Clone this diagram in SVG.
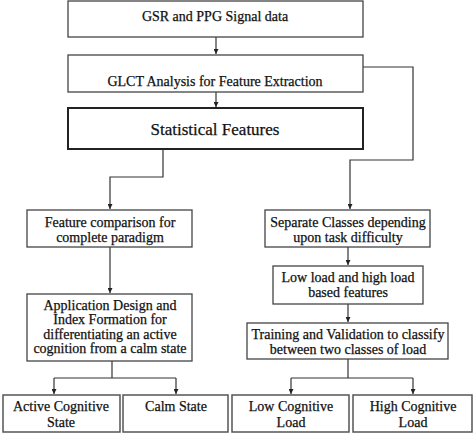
<svg xmlns="http://www.w3.org/2000/svg" width="474" height="434" viewBox="0 0 474 434">
<defs>
<marker id="ah" viewBox="0 0 10 10" refX="10" refY="5" markerWidth="5" markerHeight="5" orient="auto" markerUnits="userSpaceOnUse">
<path d="M0,0 L10,5 L0,10 z" fill="#222"/>
</marker>
<style>
.box{fill:#fff;stroke:#444;stroke-width:1.3}
.thick{fill:#fff;stroke:#222;stroke-width:2}
.bot{fill:#fff;stroke:#555;stroke-width:1.5}
.t{font-family:"Liberation Serif","Times New Roman",serif;font-size:14px;fill:#111;text-anchor:middle;stroke:#111;stroke-width:0.25}
.big{font-size:17px}
.c{fill:none;stroke:#333;stroke-width:1.2}
</style>
</defs>
<rect width="474" height="434" fill="#fff"/>
<g id="connectors">
<path class="c" d="M216,37 V54" marker-end="url(#ah)"/>
<path class="c" d="M216,92 V107" marker-end="url(#ah)"/>
<path class="c" d="M363,67 H413 V160 H350 V209" marker-end="url(#ah)"/>
<path class="c" d="M163,149 V177 H110 V209" marker-end="url(#ah)"/>
<path class="c" d="M110,247 V293" marker-end="url(#ah)"/>
<path class="c" d="M348,247 V265" marker-end="url(#ah)"/>
<path class="c" d="M348,304 V322" marker-end="url(#ah)"/>
<path class="c" d="M112,361 V378"/>
<path class="c" d="M54,378 H176"/>
<path class="c" d="M54,378 V394" marker-end="url(#ah)"/>
<path class="c" d="M176,378 V394" marker-end="url(#ah)"/>
<path class="c" d="M348,359 V378"/>
<path class="c" d="M291,378 H413"/>
<path class="c" d="M291,378 V394" marker-end="url(#ah)"/>
<path class="c" d="M413,378 V394" marker-end="url(#ah)"/>
</g>
<g id="gsr">
<rect class="box" x="68" y="1" width="295" height="36"/>
<text class="t" x="215" y="21">GSR and PPG Signal data</text>
</g>
<g id="glct">
<rect class="box" x="68" y="55" width="295" height="37"/>
<text class="t" x="215" y="86">GLCT Analysis for Feature Extraction</text>
</g>
<g id="stat">
<rect class="thick" x="68" y="108" width="295" height="41"/>
<text class="t big" x="215" y="135">Statistical Features</text>
</g>
<g id="featcomp">
<rect class="box" x="27" y="210" width="165" height="37"/>
<text class="t" x="110" y="227">Feature comparison for</text>
<text class="t" x="110" y="242">complete paradigm</text>
</g>
<g id="separate">
<rect class="box" x="265" y="210" width="165" height="37"/>
<text class="t" x="348" y="227">Separate Classes depending</text>
<text class="t" x="348" y="242">upon task difficulty</text>
</g>
<g id="lowhigh">
<rect class="box" x="273" y="266" width="150" height="38"/>
<text class="t" x="348" y="282">Low load and high load</text>
<text class="t" x="348" y="297">based features</text>
</g>
<g id="app">
<rect class="box" x="27" y="294" width="165" height="67"/>
<text class="t" x="110" y="310">Application Design and</text>
<text class="t" x="110" y="324">Index Formation for</text>
<text class="t" x="110" y="339">differentiating an active</text>
<text class="t" x="110" y="353">cognition from a calm state</text>
</g>
<g id="training">
<rect class="box" x="247" y="323" width="201" height="36"/>
<text class="t" x="348" y="339">Training and Validation to classify</text>
<text class="t" x="348" y="354">between two classes of load</text>
</g>
<g id="active">
<rect class="bot" x="3" y="395" width="117" height="37"/>
<text class="t" x="61" y="411">Active Cognitive</text>
<text class="t" x="61" y="427">State</text>
</g>
<g id="calm">
<rect class="bot" x="123" y="395" width="105" height="37"/>
<text class="t" x="176" y="411">Calm State</text>
</g>
<g id="lowcog">
<rect class="bot" x="232" y="395" width="117" height="37"/>
<text class="t" x="291" y="411">Low Cognitive</text>
<text class="t" x="291" y="427">Load</text>
</g>
<g id="highcog">
<rect class="bot" x="353" y="395" width="119" height="37"/>
<text class="t" x="413" y="411">High Cognitive</text>
<text class="t" x="413" y="427">Load</text>
</g>
</svg>
